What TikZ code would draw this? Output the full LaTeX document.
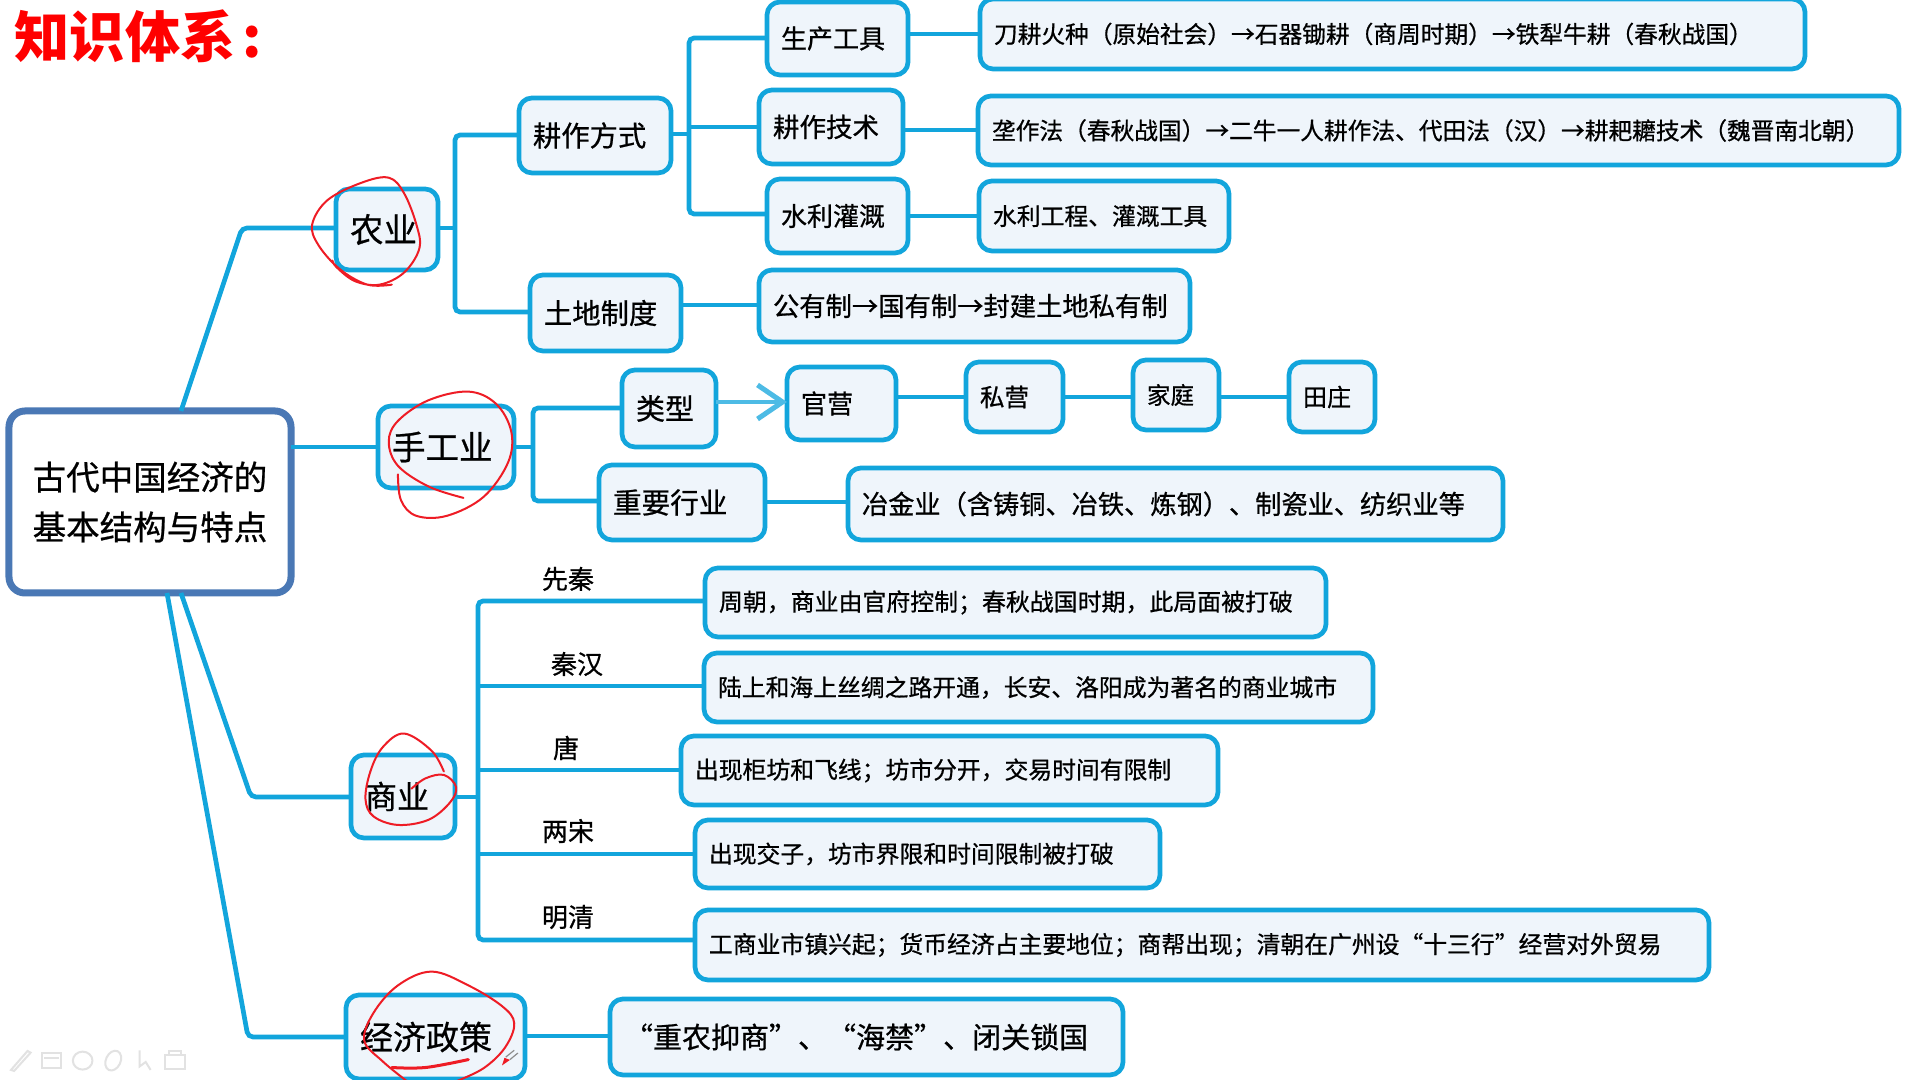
\documentclass[tikz,border=0pt]{standalone}
\usepackage{fontspec}
\usetikzlibrary{arrows.meta}
\newfontfamily\cjk[FakeBold=0.7]{Noto Sans CJK SC}
\newfontfamily\cjktitle{Noto Sans CJK SC}
\definecolor{linkblue}{HTML}{12A5DC}
\definecolor{boxfill}{HTML}{EFF5FB}
\definecolor{mainblue}{HTML}{4A78B5}
\definecolor{penred}{HTML}{EE1C25}
\definecolor{toolgrey}{HTML}{E2E2E2}
\tikzset{
  boxbase/.style={draw=linkblue,fill=boxfill,line width=.047cm,rounded corners=.13cm,outer sep=0pt,
    inner ysep=0pt,inner xsep=.14cm,align=left,text=black},
  mainbox/.style={boxbase,draw=mainblue,line width=.07cm,fill=white,rounded corners=.16cm,align=center},
  conn/.style={draw=linkblue,line width=.047cm,rounded corners=.05cm},
  thinconn/.style={draw=linkblue!75!white,line width=.035cm},
  stamp/.style={text=black,inner sep=0pt},
  pen/.style={draw=penred,line width=.02cm,line cap=round,line join=round},
  toolicon/.style={draw=toolgrey,line width=.02cm},
}
% style, name, x0, y0, x1, y1, font px, text
\newcommand{\bx}[8][boxbase]{%
  \pgfmathsetmacro\fs{#7*0.2845}%
  \pgfmathsetmacro\bs{#7*0.2845*1.25}%
  \node[#1,minimum height={(#6-#4)*0.01cm},text width={(#5-#3-28)*0.01cm},
    font=\cjk\fontsize{\fs pt}{\bs pt}\selectfont] (#2) at ({(#3+#5)/2},{(#4+#6)/2}) {#8};}
\newcommand{\lab}[5]{%
  \pgfmathsetmacro\fs{#4*0.2845}%
  \pgfmathsetmacro\bs{#4*0.2845*1.25}%
  \node[stamp,font=\cjk\fontsize{\fs pt}{\bs pt}\selectfont] (#1) at (#2,#3) {#5};}
\begin{document}
\begin{tikzpicture}[x=.01cm,y=-.01cm]
\useasboundingbox (0,0) rectangle (1920,1080);
\fill[white] (0,0) rectangle (1920,1080);
\clip (0,0) rectangle (1920,1080);

\node[text=red,inner sep=0pt,anchor=west,font=\cjktitle\bfseries\fontsize{15.7pt}{18pt}\selectfont] (title) at (14,36) {知识体系\kern.07cm:};

\bx[mainbox]{main}{9}{411}{291}{593}{33.5}{古代中国经济的\\[.08cm]基本结构与特点}

\bx{nong}{336}{189}{438}{270}{33.5}{农业}
\bx{geng}{519}{98}{671}{173}{28.3}{耕作方式}
\bx{tudi}{530}{275}{681}{351}{28.3}{土地制度}
\bx{shengchan}{767}{2}{908}{75}{26}{生产工具}
\bx{gengji}{759}{90}{903}{164}{26.5}{耕作技术}
\bx{shuili}{767}{179}{908}{253}{26}{水利灌溉}
\bx{daogeng}{980}{-1}{1805}{69}{23.7}{刀耕火种（原始社会）→石器锄耕（商周时期）→铁犁牛耕（春秋战国）}
\bx{longzuo}{978}{96}{1899}{165}{23.7}{垄作法（春秋战国）→二牛一人耕作法、代田法（汉）→耕耙耱技术（魏晋南北朝）}
\bx{shuigong}{979}{181}{1229}{251}{23.8}{水利工程、灌溉工具}
\bx{gongyou}{759}{270}{1190}{342}{26.3}{公有制→国有制→封建土地私有制}

\bx{shou}{378}{406}{514}{488}{33.5}{手工业}
\bx{leixing}{622}{370}{716}{447}{29}{类型}
\bx{guan}{787}{367}{896}{440}{26}{官营}
\bx{si}{966}{362}{1063}{432}{24.5}{私营}
\bx{jia}{1133}{360}{1219}{430}{23.5}{家庭}
\bx{tian}{1289}{362}{1375}{432}{24}{田庄}
\bx{zhongyao}{599}{465}{765}{540}{28.6}{重要行业}
\bx{yejin}{848}{468}{1503}{540}{26.2}{冶金业（含铸铜、冶铁、炼钢）、制瓷业、纺织业等}

\bx{shang}{351}{755}{455}{838}{32}{商业}
\bx{zhou}{705}{568}{1326}{637}{23.9}{周朝，商业由官府控制；春秋战国时期，此局面被打破}
\bx{lu}{704}{653}{1373}{722}{23.8}{陆上和海上丝绸之路开通，长安、洛阳成为著名的商业城市}
\bx{gui}{681}{736}{1218}{805}{23.8}{出现柜坊和飞线；坊市分开，交易时间有限制}
\bx{jiao}{695}{820}{1160}{888}{23.8}{出现交子，坊市界限和时间限制被打破}
\bx{gs}{695}{910}{1709}{980}{23.8}{工商业市镇兴起；货币经济占主要地位；商帮出现；清朝在广州设“十三行”经营对外贸易}

\bx{jingji}{346}{995}{525}{1079}{33}{经济政策}
\bx{zhongnong}{610}{999}{1123}{1075}{29}{“重农抑商”、“海禁”、闭关锁国}

\lab{xianqin}{568}{579}{26}{先秦}
\lab{qinhan}{577}{664}{26}{秦汉}
\lab{tang}{566}{748}{26}{唐}
\lab{liangsong}{568}{831}{26}{两宋}
\lab{mingqing}{568}{917}{26}{明清}

% main branches
\coordinate (e1) at (242,228);
\coordinate (e3) at (251,797);
\coordinate (e4) at (248,1037);
\draw[conn] (main.north -| 181,0) -- (e1) -- (nong.west |- e1);
\draw[conn] (main.east |- 0,447) -- (shou.west |- 0,447);
\draw[conn] (main.south -| 181,0) -- (e3) -- (shang.west |- e3);
\draw[conn] (main.south -| 167,0) -- (e4) -- (jingji.west |- e4);

% agriculture
\draw[conn] (nong.east |- 0,228) -- (455,228);
\draw[conn] (geng.west |- 0,135) -- (455,135) -- (455,312) -- (tudi.west |- 0,312);
\draw[conn] (geng.east |- 0,134) -- (689,134);
\draw[conn] (shengchan.west |- 0,38) -- (689,38) -- (689,214) -- (shuili.west |- 0,214);
\draw[conn] (689,127) -- (gengji.west |- 0,127);
\draw[conn] (shengchan.east |- 0,34) -- (daogeng.west |- 0,34);
\draw[conn] (gengji.east |- 0,130) -- (longzuo.west |- 0,130);
\draw[conn] (shuili.east |- 0,216) -- (shuigong.west |- 0,216);
\draw[conn] (tudi.east |- 0,305) -- (gongyou.west |- 0,305);

% handicraft
\draw[conn] (shou.east |- 0,447) -- (533,447);
\draw[conn] (leixing.west |- 0,408) -- (533,408) -- (533,501) -- (zhongyao.west |- 0,501);
\draw[thinconn,-{Straight Barb[length=.25cm,width=.34cm,line width=.05cm]}] (leixing.east |- 0,402) -- (guan.west |- 0,402);
\draw[conn] (guan.east |- 0,397) -- (si.west |- 0,397);
\draw[conn] (si.east |- 0,397) -- (jia.west |- 0,397);
\draw[conn] (jia.east |- 0,397) -- (tian.west |- 0,397);
\draw[conn] (zhongyao.east |- 0,502) -- (yejin.west |- 0,502);

% commerce
\draw[conn] (shang.east |- 0,797) -- (478,797);
\draw[conn] (zhou.west |- 0,601) -- (478,601) -- (478,940) -- (gs.west |- 0,940);
\draw[conn] (478,686) -- (lu.west |- 0,686);
\draw[conn] (478,770) -- (gui.west |- 0,770);
\draw[conn] (478,854) -- (jiao.west |- 0,854);

% policy
\draw[conn] (jingji.east |- 0,1036) -- (zhongnong.west |- 0,1036);

% red pen marks, traced in zoomed coordinates
\begin{scope}[x=.006124cm,y=-.003444cm]
\draw[pen] plot[smooth,tension=.6] coordinates {(640,825)(600,825)(555,780)(520,710)(510,650)(535,580)(590,530)(635,515)(660,560)(680,650)(685,720)(660,790)(620,825)(580,815)(550,775)(543,755)};
\draw[pen] plot[smooth,tension=.6] coordinates {(757,1443)(700,1410)(650,1350)(635,1280)(650,1220)(700,1160)(765,1135)(810,1170)(835,1250)(830,1340)(790,1440)(730,1495)(680,1495)(655,1450)(650,1375)};
\begin{scope}[yshift=-5.4cm]
\draw[pen] plot[smooth,tension=.6] coordinates {(725,670)(705,610)(660,560)(625,600)(605,670)(597,750)(610,800)(650,825)(700,810)(735,760)(745,715)(725,680)(695,690)(672,720)};
\draw[pen] plot[smooth,tension=.6] coordinates {(665,1568)(625,1510)(595,1450)(610,1370)(650,1290)(705,1250)(765,1290)(820,1350)(840,1400)(825,1470)(790,1530)(745,1568)};
\draw[pen,line width=.03cm] plot[smooth,tension=.6] coordinates {(640,1528)(695,1528)(765,1505)};
% pen cursor
\fill[penred] (820,1522) -- (824,1500) -- (833,1506) -- cycle;
\draw[toolicon,line width=.012cm,draw=black!45] (826,1498) -- (840,1478) (833,1505) -- (846,1486);
% toolbar icons
\draw[toolicon] (18,1535) -- (45,1480) -- (50,1485) -- (23,1538) -- cycle;
\draw[toolicon] (68,1485) rectangle (100,1530);
\draw[toolicon] (72,1500) -- (96,1500);
\draw[toolicon] (135,1508) ellipse (16 and 26);
\draw[toolicon,rotate around={-25:(185,1508)}] (185,1508) ellipse (12 and 30);
\draw[toolicon] (228,1478) -- (228,1525) -- (238,1512) -- (246,1535);
\draw[toolicon] (270,1492) rectangle (302,1532);
\draw[toolicon] (276,1480) rectangle (296,1492);
\end{scope}
\end{scope}
\end{tikzpicture}
\end{document}
